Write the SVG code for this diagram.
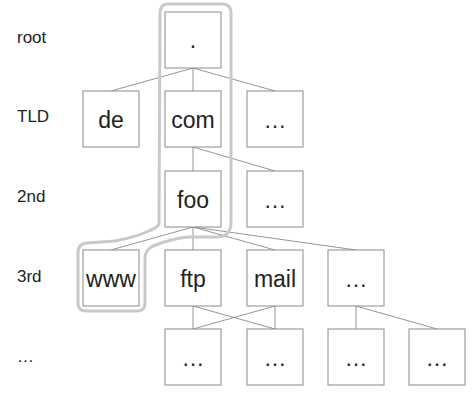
<svg xmlns="http://www.w3.org/2000/svg" width="474" height="413" viewBox="0 0 474 413">
<style>
.box{fill:#fff;stroke:#8a8a8a;stroke-width:1}
.t{font-family:"Liberation Sans",Arial,sans-serif;font-size:23px;fill:#222;text-anchor:middle}
.lbl{font-family:"Liberation Sans",Arial,sans-serif;font-size:17px;fill:#222}
.c{stroke:#7a7a7a;stroke-width:0.8;fill:none}
.hl{fill:none;stroke:#c9c9c9;stroke-width:3;stroke-linejoin:round}
</style>
<rect width="474" height="413" fill="#fff"/>
<g id="labels">
<text class="lbl" x="17" y="43">root</text>
<text class="lbl" x="17" y="122">TLD</text>
<text class="lbl" x="17" y="202">2nd</text>
<text class="lbl" x="17" y="282">3rd</text>
<text class="lbl" x="17" y="362">…</text>
</g>
<g id="connectors">
<path class="c" d="M193 68L111 91M193 68L193 91M193 68L275 91"/>
<path class="c" d="M193 147L193 171M193 147L275 171"/>
<path class="c" d="M193 227L111 250M193 227L193 250M193 227L275 250M193 227L356 250"/>
<path class="c" d="M193 306L193 329M193 306L275 329M275 306L193 329M275 306L275 329"/>
<path class="c" d="M356 306L356 329M356 306L437 329"/>
</g>
<path id="highlight" class="hl" d="M159 224L160 13Q160 4 168 4L222 4Q231 4 231 13L231 222Q231 236 218 237L188 237Q170 239 153 246Q145 250 145 258L145 303Q145 311 137 311L86 311Q78 311 78 303L78 252Q78 244 87 243L115 241Q140 236 151 230Q158 227 159 224Z"/>
<g id="n-root"><rect class="box" x="165" y="12" width="56" height="56"/><text class="t" x="193" y="48">.</text></g>
<g id="n-de"><rect class="box" x="83" y="91" width="56" height="56"/><text class="t" x="111" y="127.5">de</text></g>
<g id="n-com"><rect class="box" x="165" y="91" width="56" height="56"/><text class="t" x="193" y="127.5">com</text></g>
<g id="n-tld-more"><rect class="box" x="247" y="91" width="56" height="56"/><text class="t" x="275" y="127.5">…</text></g>
<g id="n-foo"><rect class="box" x="165" y="171" width="56" height="56"/><text class="t" x="193" y="207.5">foo</text></g>
<g id="n-2nd-more"><rect class="box" x="247" y="171" width="56" height="56"/><text class="t" x="275" y="207.5">…</text></g>
<g id="n-www"><rect class="box" x="83" y="250" width="56" height="56"/><text class="t" x="111" y="286.5">www</text></g>
<g id="n-ftp"><rect class="box" x="165" y="250" width="56" height="56"/><text class="t" x="193" y="286.5">ftp</text></g>
<g id="n-mail"><rect class="box" x="247" y="250" width="56" height="56"/><text class="t" x="275" y="286.5">mail</text></g>
<g id="n-3rd-more"><rect class="box" x="328" y="250" width="56" height="56"/><text class="t" x="356" y="286.5">…</text></g>
<g id="n-4a"><rect class="box" x="165" y="329" width="56" height="56"/><text class="t" x="193" y="365.5">…</text></g>
<g id="n-4b"><rect class="box" x="247" y="329" width="56" height="56"/><text class="t" x="275" y="365.5">…</text></g>
<g id="n-4c"><rect class="box" x="328" y="329" width="56" height="56"/><text class="t" x="356" y="365.5">…</text></g>
<g id="n-4d"><rect class="box" x="409" y="329" width="56" height="56"/><text class="t" x="437" y="365.5">…</text></g>
</svg>
